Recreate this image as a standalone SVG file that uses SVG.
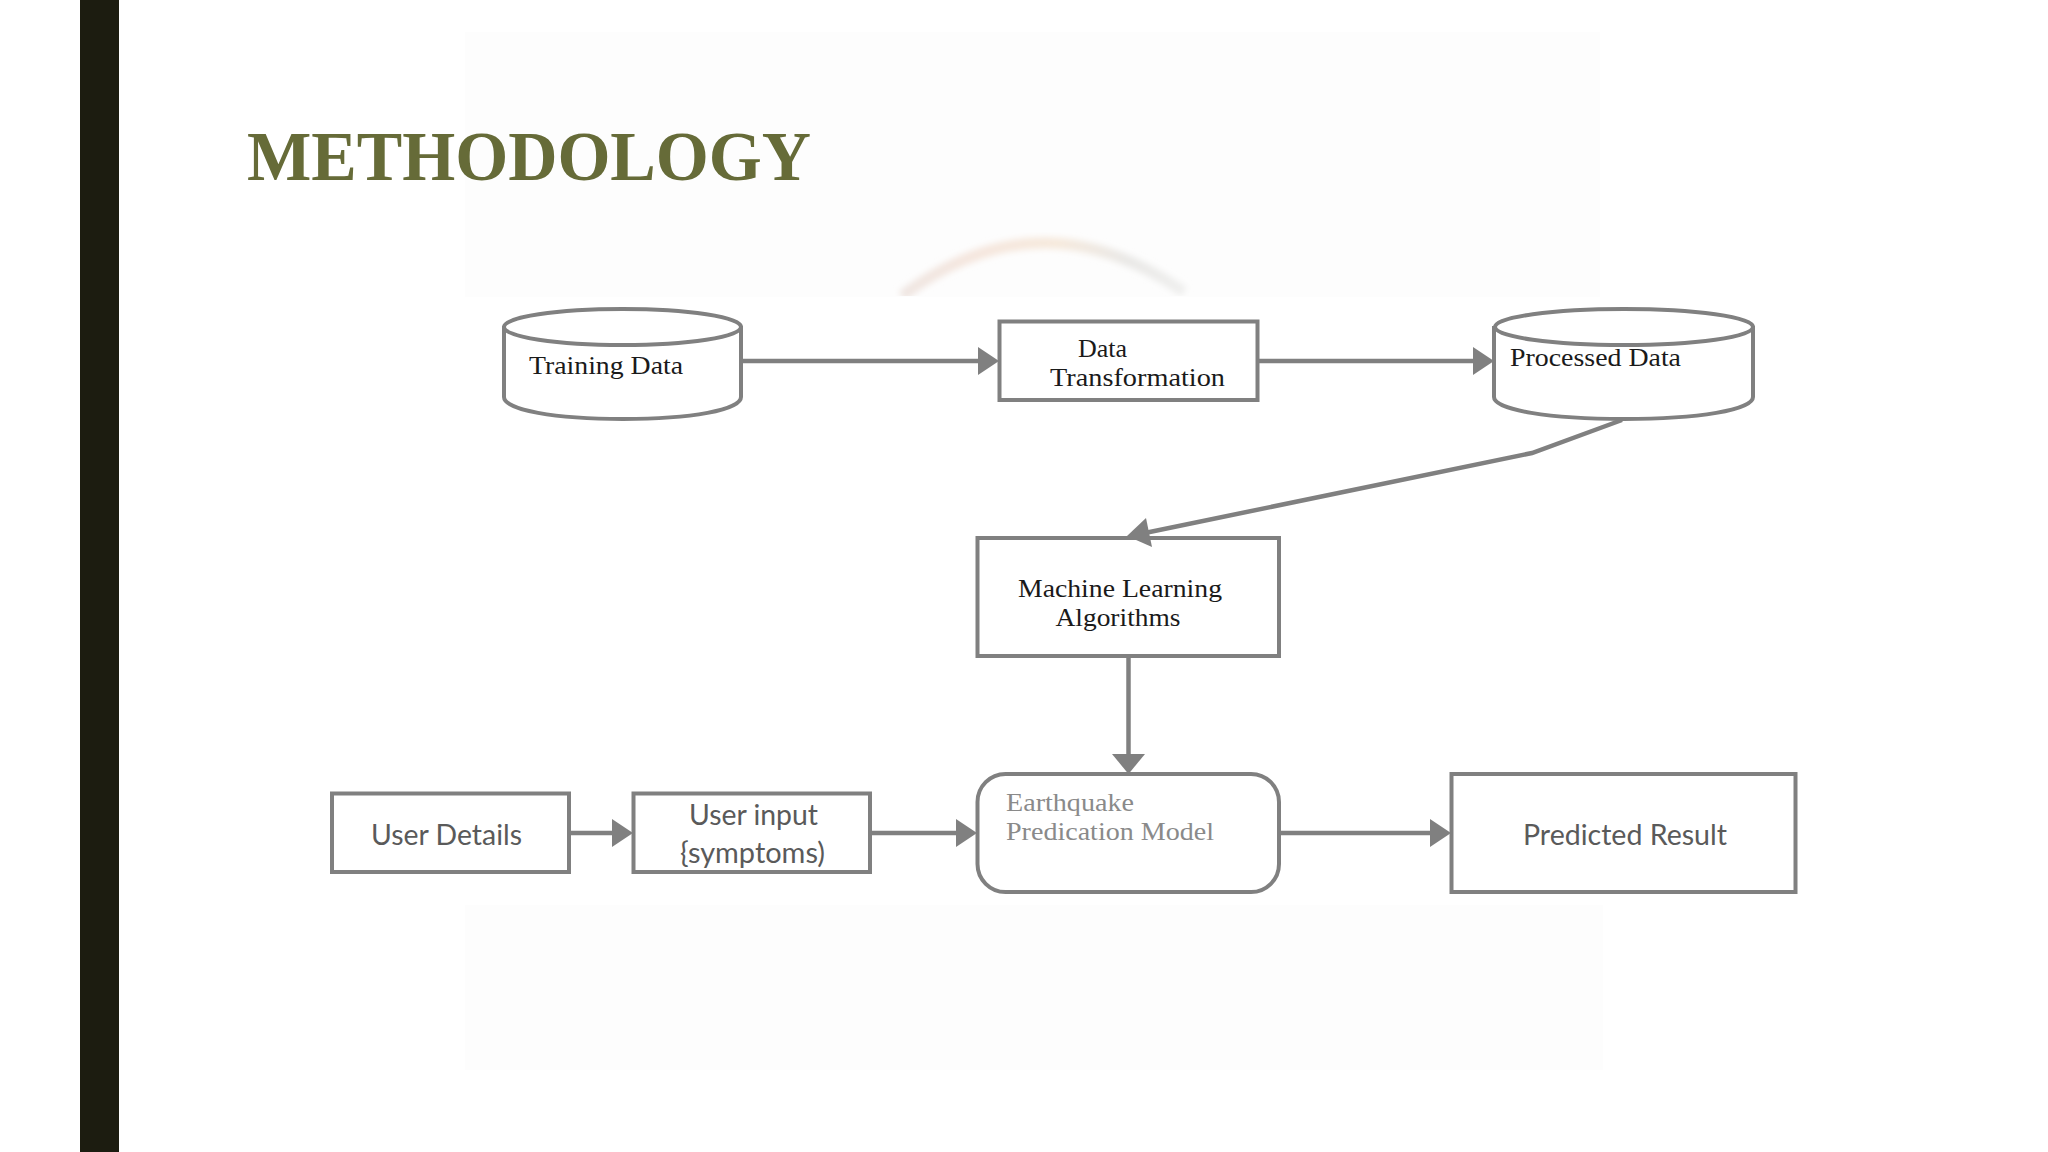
<svg xmlns="http://www.w3.org/2000/svg" width="2048" height="1152" viewBox="0 0 2048 1152">
<defs>
<style>
.n{fill:#fff;stroke:#808080;stroke-width:4}
.c{fill:none;stroke:#808080;stroke-width:4.5}
.h{fill:#808080}
.s{font-family:"Liberation Serif",serif;font-size:26px;fill:#1a1a1a}
.l{font-family:Lato,"Open Sans",sans-serif;font-size:28px;fill:#5a5a5a}
</style>
<filter id="b" x="-20%" y="-20%" width="140%" height="140%"><feGaussianBlur stdDeviation="3"/></filter>
<linearGradient id="g" gradientUnits="userSpaceOnUse" x1="900" y1="0" x2="1185" y2="0">
<stop offset="0" stop-color="#efe6e2"/><stop offset="0.25" stop-color="#f5e6de"/><stop offset="0.55" stop-color="#f6e9dc"/><stop offset="0.8" stop-color="#e9e8e6"/><stop offset="1" stop-color="#efefee"/>
</linearGradient>
<clipPath id="arc"><rect x="850" y="200" width="360" height="96"/></clipPath>
</defs>
<rect width="2048" height="1152" fill="#fff"/>
<rect x="80" width="39" height="1152" fill="#1c1c10"/>
<rect x="465" y="32" width="1135" height="265" fill="#fdfdfd"/>
<rect x="465" y="905" width="1138" height="165" fill="#fdfdfd"/>
<g clip-path="url(#arc)"><path d="M902 296Q1040 192 1184 292" fill="none" stroke="url(#g)" stroke-width="11" filter="url(#b)"/></g>
<text x="247" y="180" font-family="Liberation Serif,serif" font-weight="700" font-size="70" fill="#666b38" textLength="564" lengthAdjust="spacingAndGlyphs">METHODOLOGY</text>
<g id="training-data">
<path class="n" d="M504 326V397C504 410 555 419 623 419S741 410 741 397V326"/>
<ellipse class="n" cx="622.500" cy="327" rx="118.500" ry="18"/>
<text class="s" x="529" y="374" textLength="154" lengthAdjust="spacingAndGlyphs">Training Data</text>
</g>
<g id="data-transformation">
<rect class="n" x="999.500" y="321.500" width="258" height="78.500"/>
<text class="s" x="1078" y="357">Data</text>
<text class="s" x="1050" y="386" textLength="175" lengthAdjust="spacingAndGlyphs">Transformation</text>
</g>
<g id="processed-data">
<path class="n" d="M1494 326V397C1494 410 1550 419 1624 419S1753 410 1753 397V326"/>
<ellipse class="n" cx="1624" cy="327" rx="129" ry="18"/>
<text class="s" x="1510" y="366" textLength="171" lengthAdjust="spacingAndGlyphs">Processed Data</text>
</g>
<g id="machine-learning">
<rect class="n" x="977.500" y="538" width="301.500" height="118"/>
<text class="s" x="1120" y="597" text-anchor="middle" textLength="204" lengthAdjust="spacingAndGlyphs">Machine Learning</text>
<text class="s" x="1118" y="626" text-anchor="middle" textLength="125" lengthAdjust="spacingAndGlyphs">Algorithms</text>
</g>
<g id="earthquake-model">
<rect class="n" x="977.500" y="774" width="301.500" height="118" rx="28"/>
<text class="s" x="1006" y="811" style="fill:#8a8a8a" textLength="128" lengthAdjust="spacingAndGlyphs">Earthquake</text>
<text class="s" x="1006" y="840" style="fill:#8a8a8a" textLength="208" lengthAdjust="spacingAndGlyphs">Predication Model</text>
</g>
<g id="predicted-result">
<rect class="n" x="1451.500" y="774" width="344" height="118"/>
<text class="l" x="1523" y="845" textLength="204" lengthAdjust="spacingAndGlyphs">Predicted Result</text>
</g>
<g id="user-details">
<rect class="n" x="332" y="793.500" width="237" height="78.500"/>
<text class="l" x="371" y="845" textLength="151" lengthAdjust="spacingAndGlyphs">User Details</text>
</g>
<g id="user-input">
<rect class="n" x="633.500" y="793.500" width="236.500" height="78.500"/>
<text class="l" x="689" y="825" textLength="129" lengthAdjust="spacingAndGlyphs">User input</text>
<text class="l" x="680" y="863" textLength="145" lengthAdjust="spacingAndGlyphs">{symptoms)</text>
</g>
<g id="connectors">
<path class="c" d="M742 361H980"/><path class="h" d="M978 347L999 361L978 375Z"/>
<path class="c" d="M1258 361H1475"/><path class="h" d="M1473 347L1494 361L1473 375Z"/>
<path class="c" d="M1622 420L1532 453L1140 534"/><path class="h" d="M1127 536L1146 518L1152 547Z"/>
<path class="c" d="M1128.500 656V756"/><path class="h" d="M1112 754H1145L1128.500 774Z"/>
<path class="c" d="M569 833H614"/><path class="h" d="M612 819L633 833L612 847Z"/>
<path class="c" d="M870 833H958"/><path class="h" d="M956 819L977 833L956 847Z"/>
<path class="c" d="M1279 833H1432"/><path class="h" d="M1430 819L1451 833L1430 847Z"/>
</g>
</svg>
